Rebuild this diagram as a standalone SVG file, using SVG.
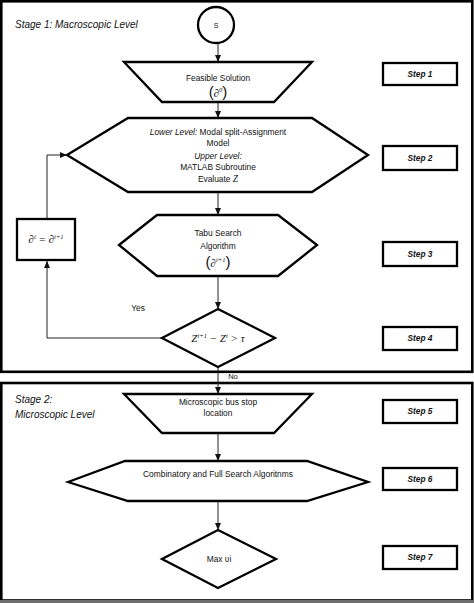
<svg xmlns="http://www.w3.org/2000/svg" width="474" height="603" viewBox="0 0 474 603">
<defs>
<marker id="ah" markerWidth="8" markerHeight="8" refX="7" refY="4" orient="auto" markerUnits="userSpaceOnUse">
<path d="M0,1 L7,4 L0,7 Z" fill="#111"/>
</marker>
<style>
.shape{fill:#fff;stroke:#000;stroke-width:2.3;stroke-linejoin:miter}
.frame{fill:#fff;stroke:#000;stroke-width:2.6}
.conn{fill:none;stroke:#222;stroke-width:1}
.t{font-family:"Liberation Sans",Arial,sans-serif;font-size:8.4px;fill:#111;text-anchor:middle}
.ti{font-style:italic}
.step{font-family:"Liberation Sans",Arial,sans-serif;font-size:8.3px;font-weight:bold;font-style:italic;fill:#111;text-anchor:middle}
.stage{font-family:"Liberation Sans",Arial,sans-serif;font-size:10px;font-style:italic;fill:#111}
.m{font-family:"Liberation Serif","Times New Roman",serif;font-style:italic;fill:#111}
.sup{font-size:6.5px}
</style>
</defs>
<g id="stage1-frame">
<rect class="frame" x="1.3" y="1.3" width="471" height="370.5"/>
<text class="stage" x="15" y="28">Stage 1: Macroscopic Level</text>
</g>
<g id="stage2-frame">
<rect class="frame" x="1.3" y="383" width="471" height="217.5"/>
<line x1="0" y1="601.5" x2="474" y2="601.5" stroke="#6e6e6e" stroke-width="3"/>
<text class="stage" x="15" y="403">Stage 2:</text>
<text class="stage" x="15" y="418">Microscopic Level</text>
</g>
<g id="connectors">
<line class="conn" x1="218" y1="42" x2="218" y2="62" marker-end="url(#ah)"/>
<line class="conn" x1="218" y1="102" x2="218" y2="118" marker-end="url(#ah)"/>
<line class="conn" x1="218" y1="192" x2="218" y2="215" marker-end="url(#ah)"/>
<line class="conn" x1="218" y1="276" x2="218" y2="309" marker-end="url(#ah)"/>
<polyline class="conn" points="162,338 47,338 47,261" marker-end="url(#ah)"/>
<polyline class="conn" points="47,219 47,155 67,155" marker-end="url(#ah)"/>
<line class="conn" x1="218" y1="367" x2="218" y2="394" marker-end="url(#ah)"/>
<line class="conn" x1="218" y1="433" x2="218" y2="461" marker-end="url(#ah)"/>
<line class="conn" x1="218" y1="501" x2="218" y2="530" marker-end="url(#ah)"/>
<text class="t" x="138" y="311">Yes</text>
<text class="t" x="233" y="379" style="font-size:7.5px">No</text>
</g>
<g id="start">
<circle class="shape" cx="216" cy="25" r="18"/>
<text class="t" x="216" y="28" style="font-size:7px">S</text>
</g>
<g id="feasible">
<polygon class="shape" points="124,62 312,62 274,102 162,102"/>
<text class="t" x="218" y="81">Feasible Solution</text>
<text class="t" x="218" y="97"><tspan style="font-size:15px">(</tspan><tspan class="m" style="font-size:11px">∂</tspan><tspan class="m sup" dy="-5">0</tspan><tspan dy="5" style="font-size:15px">)</tspan></text>
</g>
<g id="model">
<polygon class="shape" points="67,155 128,118 312,118 368,155 312,192 128,192"/>
<text class="t" x="218" y="135"><tspan class="ti">Lower Level:</tspan> Modal split-Assignment</text>
<text class="t" x="218" y="146">Model</text>
<text class="t ti" x="218" y="159">Upper Level:</text>
<text class="t" x="218" y="170">MATLAB Subroutine</text>
<text class="t" x="218" y="182">Evaluate  <tspan class="m" style="font-size:9.5px">Z</tspan></text>
</g>
<g id="update">
<rect class="shape" x="17" y="219" width="58" height="41"/>
<text class="m" x="46" y="243" text-anchor="middle" style="font-size:11px">∂<tspan class="sup" dy="-4">i</tspan><tspan dy="4"> = ∂</tspan><tspan class="sup" dy="-4">i+1</tspan></text>
</g>
<g id="tabu">
<polygon class="shape" points="119,245 157,215 278,215 317,245 278,276 157,276"/>
<text class="t" x="218" y="236">Tabu Search</text>
<text class="t" x="218" y="249">Algorithm</text>
<text class="t" x="218" y="267"><tspan style="font-size:15px">(</tspan><tspan class="m" style="font-size:11px">∂</tspan><tspan class="m sup" dy="-5">i+1</tspan><tspan dy="5" style="font-size:15px">)</tspan></text>
</g>
<g id="decision">
<polygon class="shape" points="218,309 275,338 218,367 162,338"/>
<text class="m" x="218" y="342" text-anchor="middle" style="font-size:11px">Z<tspan class="sup" dy="-4">i+1</tspan><tspan dy="4"> − Z</tspan><tspan class="sup" dy="-4">i</tspan><tspan dy="4"> &gt; τ</tspan></text>
</g>
<g id="busstop">
<polygon class="shape" points="124,394 312,394 274,433 162,433"/>
<text class="t" x="218" y="405">Microscopic  bus stop</text>
<text class="t" x="218" y="416">location</text>
</g>
<g id="search">
<polygon class="shape" points="68,482 125,461 307,461 368,482 307,501 128,501"/>
<text class="t" x="218" y="477">Combinatory and  Full Search Algoritnms</text>
</g>
<g id="max">
<polygon class="shape" points="218,530 276,559 218,588 162,559"/>
<text class="t" x="219" y="562">Max ʋi</text>
</g>
<g id="step1"><rect class="shape" x="383" y="63" width="74" height="22"/><text class="step" x="420" y="77">Step 1</text></g>
<g id="step2"><rect class="shape" x="383" y="146" width="74" height="24"/><text class="step" x="420" y="161">Step 2</text></g>
<g id="step3"><rect class="shape" x="383" y="242" width="74" height="24"/><text class="step" x="420" y="257">Step 3</text></g>
<g id="step4"><rect class="shape" x="383" y="327" width="74" height="23"/><text class="step" x="420" y="341">Step 4</text></g>
<g id="step5"><rect class="shape" x="383" y="400" width="74" height="23"/><text class="step" x="420" y="414">Step 5</text></g>
<g id="step6"><rect class="shape" x="383" y="468" width="74" height="22"/><text class="step" x="420" y="482">Step 6</text></g>
<g id="step7"><rect class="shape" x="383" y="546" width="74" height="23"/><text class="step" x="420" y="560">Step 7</text></g>
</svg>
